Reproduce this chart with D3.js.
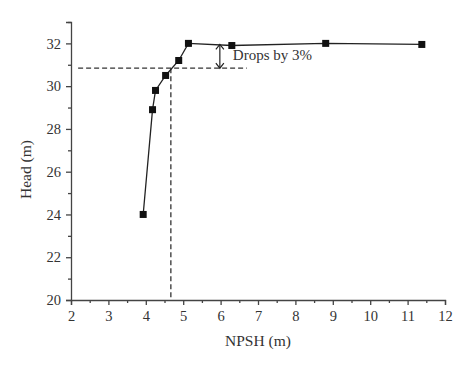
<!DOCTYPE html>
<html>
<head>
<meta charset="utf-8">
<script src="https://cdn.jsdelivr.net/npm/d3@7"></script>
<style>
  body { margin: 0; background: #fff; }
  svg text { font-family: "Liberation Serif", "DejaVu Serif", serif; fill: #333; }
  .axis path, .axis line { stroke: #444; stroke-width: 1.3; }
</style>
</head>
<body>
<div id="chart"></div>
<script>
// NPSH (m) vs head (m)
const npsh = [3.93, 4.18, 4.26, 4.53, 4.88, 5.14, 6.30, 8.81, 11.38];
const head = [24.0, 28.9, 29.8, 30.5, 31.2, 32.0, 31.9, 32.0, 31.95];

const xTicks = [2, 3, 4, 5, 6, 7, 8, 9, 10, 11, 12];
const yTicks = [20, 22, 24, 26, 28, 30, 32];

// 3% drop marker
const dropHead = 30.84;
const dropNpsh = 4.67;
const dropLineEnd = 6.7;
const arrowX = 5.98;
const dropLabel = "Drops by 3%";

const W = 474, H = 370;
const margin = {top: 22, right: 29, bottom: 70, left: 71};
const width = W - margin.left - margin.right;
const height = H - margin.top - margin.bottom;

const svg = d3.select("#chart").append("svg")
    .attr("width", W)
    .attr("height", H);

const g = svg.append("g")
    .attr("transform", "translate(" + margin.left + "," + margin.top + ")");

const x = d3.scaleLinear().domain([2, 12]).range([0, width]);
const y = d3.scaleLinear().domain([20, 33]).range([height, 0]);

// minor ticks first, then major ones with labels
g.append("g")
    .attr("class", "axis")
    .attr("transform", "translate(0," + height + ")")
    .call(d3.axisBottom(x).tickValues(d3.range(2.5, 12, 1)).tickSize(3).tickFormat(""))
    .select(".domain").remove();
const xAxis = g.append("g")
    .attr("class", "axis")
    .attr("transform", "translate(0," + height + ")")
    .call(d3.axisBottom(x).tickValues(xTicks).tickSizeOuter(0).tickSize(5).tickPadding(6));
xAxis.selectAll("text").attr("font-size", "14.5px");

g.append("g")
    .attr("class", "axis")
    .call(d3.axisLeft(y).tickValues(d3.range(21, 34, 2)).tickSize(3).tickFormat(""))
    .select(".domain").remove();
const yAxis = g.append("g")
    .attr("class", "axis")
    .call(d3.axisLeft(y).tickValues(yTicks).tickSizeOuter(0).tickSize(5).tickPadding(5));
yAxis.selectAll("text").attr("font-size", "14.5px");

g.selectAll(".axis text").style("font-family", "'Liberation Serif', serif").attr("fill", "#333");

// axis titles
g.append("text")
    .attr("x", width / 2)
    .attr("y", height + 46)
    .attr("text-anchor", "middle")
    .attr("font-size", "15.5px")
    .text("NPSH (m)");

g.append("text")
    .attr("transform", "translate(" + (-40) + "," + (y(26.1)) + ") rotate(-90)")
    .attr("text-anchor", "middle")
    .attr("font-size", "15.5px")
    .text("Head (m)");

// dashed guide lines
g.append("line")
    .attr("x1", x(2.19)).attr("x2", x(dropLineEnd))
    .attr("y1", y(dropHead)).attr("y2", y(dropHead))
    .attr("stroke", "#333").attr("stroke-width", 1.3)
    .attr("stroke-dasharray", "5,3");
g.append("line")
    .attr("x1", x(dropNpsh)).attr("x2", x(dropNpsh))
    .attr("y1", y(dropHead)).attr("y2", y(20))
    .attr("stroke", "#333").attr("stroke-width", 1.3)
    .attr("stroke-dasharray", "5,3");

// data line and markers
const data = npsh.map(function(v, i) { return {x: v, y: head[i]}; });
const line = d3.line()
    .x(function(d) { return x(d.x); })
    .y(function(d) { return y(d.y); });

g.append("path")
    .datum(data)
    .attr("d", line)
    .attr("fill", "none")
    .attr("stroke", "#222")
    .attr("stroke-width", 1.3);

g.selectAll("rect.pt")
    .data(data)
    .enter().append("rect")
    .attr("class", "pt")
    .attr("x", function(d) { return x(d.x) - 3.5; })
    .attr("y", function(d) { return y(d.y) - 3.5; })
    .attr("width", 7)
    .attr("height", 7)
    .attr("fill", "#111");

// double arrow for the drop
const ax = x(arrowX);
const yTop = y(32.0) + 1;
const yBot = y(dropHead);
g.append("line")
    .attr("x1", ax).attr("x2", ax)
    .attr("y1", yTop).attr("y2", yBot)
    .attr("stroke", "#222").attr("stroke-width", 1.2);
g.append("path")
    .attr("d", "M" + (ax - 4) + "," + (yTop + 5) + "L" + ax + "," + yTop + "L" + (ax + 4) + "," + (yTop + 5))
    .attr("fill", "none").attr("stroke", "#222").attr("stroke-width", 1.2);
g.append("path")
    .attr("d", "M" + (ax - 4) + "," + (yBot - 5) + "L" + ax + "," + yBot + "L" + (ax + 4) + "," + (yBot - 5))
    .attr("fill", "none").attr("stroke", "#222").attr("stroke-width", 1.2);

g.append("text")
    .attr("x", ax + 13)
    .attr("y", y(31.2))
    .attr("font-size", "15px")
    .text(dropLabel);
</script>
</body>
</html>
